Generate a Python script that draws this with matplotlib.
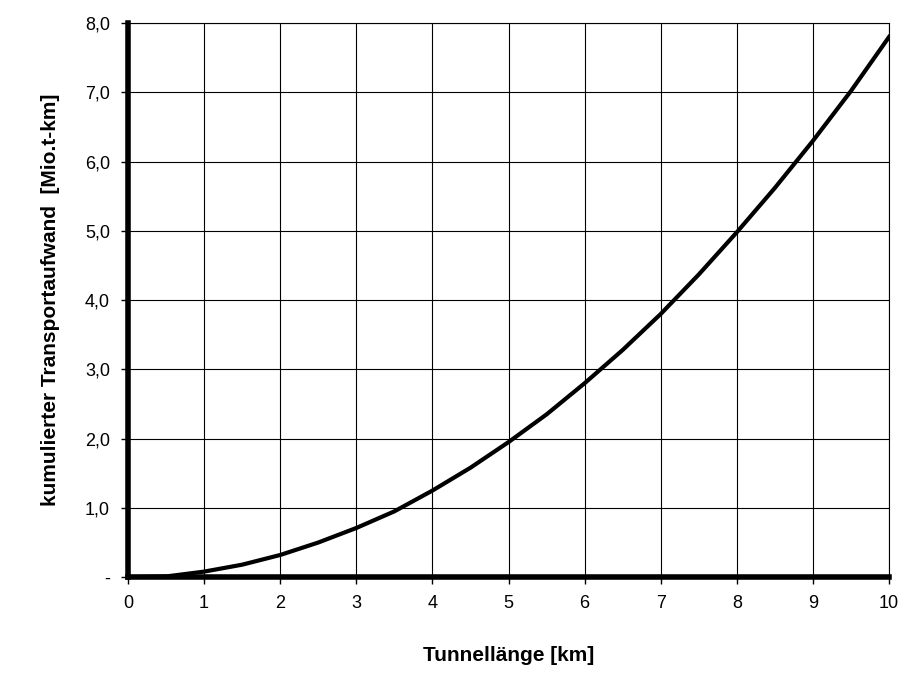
import matplotlib.pyplot as plt

tunnel_km = [0, 0.5, 1, 1.5, 2, 2.5, 3, 3.5, 4, 4.5, 5, 5.5, 6, 6.5, 7, 7.5, 8, 8.5, 9, 9.5, 10]
transport = [0, 0.01, 0.08, 0.18, 0.32, 0.5, 0.71, 0.95, 1.25, 1.58, 1.95, 2.35, 2.8, 3.28,
             3.8, 4.37, 4.98, 5.62, 6.3, 7.02, 7.8]
y_ticks = [0, 1, 2, 3, 4, 5, 6, 7, 8]
y_labels = ['-', '1,0', '2,0', '3,0', '4,0', '5,0', '6,0', '7,0', '8,0']

plt.rcParams['font.family'] = ['Liberation Sans', 'DejaVu Sans']

fig = plt.figure(figsize=(9.23, 6.79), dpi=100)
ax = fig.add_axes([0.1387, 0.150, 0.8245, 0.816])

ax.plot(tunnel_km, transport, color='black', linewidth=3, zorder=3)

ax.set_xlim(0, 10)
ax.set_ylim(0, 8)
ax.set_xticks(range(0, 11))
ax.set_yticks(y_ticks)
ax.set_yticklabels(y_labels)
ax.grid(True, color='black', linewidth=0.8)
ax.tick_params(labelsize=13, length=5, width=1, pad=8)

for side in ['left', 'bottom']:
    ax.spines[side].set_linewidth(4)
for side in ['top', 'right']:
    ax.spines[side].set_linewidth(0.8)

ax.set_xlabel('Tunnellänge [km]', fontsize=15, fontweight='bold', labelpad=24)
ax.set_ylabel('kumulierter Transportaufwand  [Mio.t-km]', fontsize=15, fontweight='bold', labelpad=18)

fig.savefig('out.png', dpi=100)
